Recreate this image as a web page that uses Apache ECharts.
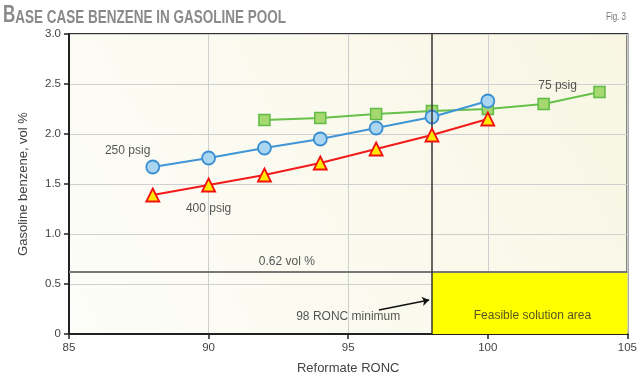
<!DOCTYPE html>
<html><head><meta charset="utf-8">
<script src="https://cdn.jsdelivr.net/npm/echarts@6/dist/echarts.min.js"></script>
<style>html,body{margin:0;padding:0;background:#fff}#c{width:640px;height:380px}</style>
</head><body><div id="c"></div>
<script>
// ---- data ----
const xTicks = [85, 90, 95, 100, 105];
const yTicks = [0, 0.5, 1.0, 1.5, 2.0, 2.5, 3.0];
const ronc250 = [88, 90, 92, 94, 96, 98, 100];
const benz250 = [1.67, 1.76, 1.86, 1.95, 2.06, 2.17, 2.33];
const ronc400 = [88, 90, 92, 94, 96, 98, 100];
const benz400 = [1.39, 1.49, 1.59, 1.71, 1.85, 1.99, 2.15];
const ronc75 = [92, 94, 96, 98, 100, 102, 104];
const benz75 = [2.14, 2.16, 2.20, 2.23, 2.25, 2.30, 2.42];
const limitBenzene = 0.62;
const minRonc = 98;
const arrowFrom = [96.1, 0.24];
const arrowTo = [97.9, 0.34];
const annotations = [
  {text: '250 psig', at: [87.1, 1.83]},
  {text: '400 psig', at: [90.0, 1.25]},
  {text: '75 psig', at: [102.5, 2.48]},
  {text: '0.62 vol %', at: [92.8, 0.72]},
  {text: '98 RONC minimum', at: [95.0, 0.17]},
  {text: 'Feasible solution area', at: [101.6, 0.18]}
];

const zip = (a, b) => a.map((v, i) => [v, b[i]]);
const fontFam = '"Liberation Sans", Arial, sans-serif';
const titleFam = '"Liberation Sans", Arial, sans-serif';
const chart = echarts.init(document.getElementById('c'), null, {renderer: 'canvas'});
chart.setOption({
  animation: false,
  backgroundColor: '#ffffff',
  graphic: [{
    type: 'text', x: 3, y: 3, scaleX: 0.71,
    style: {
      text: '{a|B}{b|ASE CASE BENZENE IN GASOLINE POOL}',
      rich: {
        a: {fontSize: 24, fontWeight: 'bold', fill: '#8a8a8a', fontFamily: titleFam, verticalAlign: 'bottom'},
        b: {fontSize: 19, fontWeight: 'bold', fill: '#8a8a8a', fontFamily: titleFam, verticalAlign: 'bottom'}
      }
    }
  }, {
    type: 'text', x: 606, y: 12, scaleX: 0.8,
    style: {text: 'Fig. 3', fontSize: 10, fill: '#777', fontFamily: titleFam}
  }],
  grid: {
    left: 69, right: 12, top: 34, bottom: 44,
    show: true, borderColor: '#333', borderWidth: 2,
    backgroundColor: new echarts.graphic.LinearGradient(0, 1, 1, 0, [
      {offset: 0, color: '#fdfdf9'}, {offset: 1, color: '#f8f6e3'}
    ])
  },
  xAxis: {
    type: 'value', min: xTicks[0], max: xTicks[xTicks.length - 1], interval: 5,
    name: 'Reformate RONC', nameLocation: 'middle', nameGap: 28,
    nameTextStyle: {fontSize: 13, color: '#444', fontFamily: fontFam},
    axisLine: {show: true, lineStyle: {color: '#222', width: 2}},
    axisTick: {show: true, length: 5, lineStyle: {color: '#222', width: 1.5}},
    axisLabel: {fontSize: 11.5, color: '#444', fontFamily: fontFam, margin: 8},
    splitLine: {show: true, lineStyle: {color: '#cfcfcf', width: 1}}
  },
  yAxis: {
    type: 'value', min: yTicks[0], max: yTicks[yTicks.length - 1], interval: 0.5,
    name: 'Gasoline benzene, vol %', nameLocation: 'middle', nameGap: 39, nameRotate: 90,
    nameTextStyle: {fontSize: 13, color: '#444', fontFamily: fontFam},
    axisLine: {show: true, lineStyle: {color: '#222', width: 2}},
    axisTick: {show: true, length: 5, lineStyle: {color: '#222', width: 1.5}},
    axisLabel: {fontSize: 11.5, color: '#444', fontFamily: fontFam, margin: 8,
      formatter: v => v === 0 ? '0' : v.toFixed(1)},
    splitLine: {show: true, lineStyle: {color: '#cfcfcf', width: 1}}
  },
  series: [
    {
      type: 'line', name: 'frame', data: [], silent: true,
      markArea: {silent: true, itemStyle: {color: '#ffff00', opacity: 1},
        data: [[{coord: [minRonc, 0]}, {coord: [xTicks[xTicks.length - 1], limitBenzene]}]]},
      markLine: {silent: true, symbol: 'none', label: {show: false},
        data: [
          [{coord: [xTicks[0], limitBenzene], lineStyle: {color: '#777', width: 2, type: 'solid'}},
           {coord: [xTicks[xTicks.length - 1], limitBenzene]}],
          [{coord: [minRonc, yTicks[0]], lineStyle: {color: '#333', width: 1.5, type: 'solid'}},
           {coord: [minRonc, yTicks[yTicks.length - 1]]}],
          [{coord: arrowFrom, symbol: 'none', lineStyle: {color: '#111', width: 1.5, type: 'solid'}},
           {coord: arrowTo, symbol: 'arrow', symbolSize: 7}]
        ]}
    },
    {
      type: 'line', name: '75 psig', data: zip(ronc75, benz75), z: 3,
      symbol: 'rect', symbolSize: 11,
      lineStyle: {color: '#66c04a', width: 2},
      itemStyle: {color: '#a6d870', borderColor: '#5fbb45', borderWidth: 1.5}
    },
    {
      type: 'line', name: '250 psig', data: zip(ronc250, benz250), z: 4,
      symbol: 'circle', symbolSize: 13,
      lineStyle: {color: '#3f95d6', width: 2},
      itemStyle: {color: '#aad6f2', borderColor: '#3a8ed2', borderWidth: 1.8}
    },
    {
      type: 'line', name: '400 psig', data: zip(ronc400, benz400), z: 5,
      symbol: 'triangle', symbolSize: 13,
      lineStyle: {color: '#f21a1a', width: 2},
      itemStyle: {color: '#ffe800', borderColor: '#f01010', borderWidth: 1.8}
    },
    {
      type: 'scatter', name: 'notes', z: 6, silent: true,
      symbolSize: 0,
      data: annotations.map(a => ({value: a.at, name: a.text})),
      label: {show: true, position: 'inside', formatter: p => p.name,
        fontSize: 12, color: '#2a2a2a', fontFamily: fontFam}
    }
  ]
});
</script></body></html>
